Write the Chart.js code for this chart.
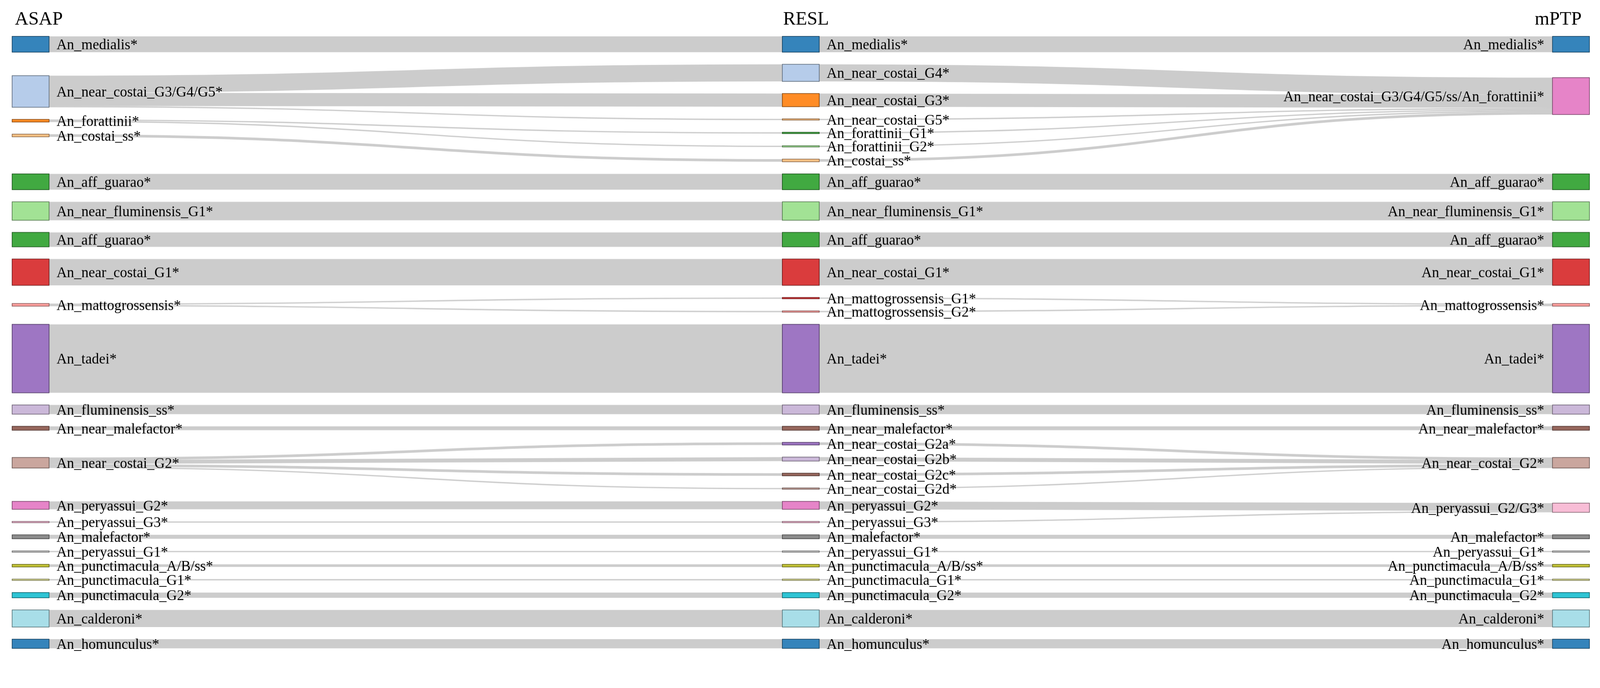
<!DOCTYPE html>
<html>
<head>
<meta charset="utf-8">
<script src="https://cdn.jsdelivr.net/npm/chart.js@4.4.1/dist/chart.umd.min.js"></script>
<style>
  html, body { margin: 0; padding: 0; background: #fff; overflow: hidden; }
  #wrap { width: 100vw; aspect-ratio: 4234 / 1761; }
</style>
</head>
<body>
<div id="wrap"><canvas id="sankey"></canvas></div>
<script>
const columnTitles = ['ASAP', 'RESL', 'mPTP'];

const asapNames = [
  'An_medialis*', 'An_near_costai_G3/G4/G5*', 'An_forattinii*', 'An_costai_ss*',
  'An_aff_guarao*', 'An_near_fluminensis_G1*', 'An_aff_guarao*', 'An_near_costai_G1*',
  'An_mattogrossensis*', 'An_tadei*', 'An_fluminensis_ss*', 'An_near_malefactor*',
  'An_near_costai_G2*', 'An_peryassui_G2*', 'An_peryassui_G3*', 'An_malefactor*',
  'An_peryassui_G1*', 'An_punctimacula_A/B/ss*', 'An_punctimacula_G1*', 'An_punctimacula_G2*',
  'An_calderoni*', 'An_homunculus*'
];

const reslNames = [
  'An_medialis*', 'An_near_costai_G4*', 'An_near_costai_G3*', 'An_near_costai_G5*',
  'An_forattinii_G1*', 'An_forattinii_G2*', 'An_costai_ss*', 'An_aff_guarao*',
  'An_near_fluminensis_G1*', 'An_aff_guarao*', 'An_near_costai_G1*', 'An_mattogrossensis_G1*',
  'An_mattogrossensis_G2*', 'An_tadei*', 'An_fluminensis_ss*', 'An_near_malefactor*',
  'An_near_costai_G2a*', 'An_near_costai_G2b*', 'An_near_costai_G2c*', 'An_near_costai_G2d*',
  'An_peryassui_G2*', 'An_peryassui_G3*', 'An_malefactor*', 'An_peryassui_G1*',
  'An_punctimacula_A/B/ss*', 'An_punctimacula_G1*', 'An_punctimacula_G2*', 'An_calderoni*',
  'An_homunculus*'
];

const mptpNames = [
  'An_medialis*', 'An_near_costai_G3/G4/G5/ss/An_forattinii*', 'An_aff_guarao*',
  'An_near_fluminensis_G1*', 'An_aff_guarao*', 'An_near_costai_G1*', 'An_mattogrossensis*',
  'An_tadei*', 'An_fluminensis_ss*', 'An_near_malefactor*', 'An_near_costai_G2*',
  'An_peryassui_G2/G3*', 'An_malefactor*', 'An_peryassui_G1*', 'An_punctimacula_A/B/ss*',
  'An_punctimacula_G1*', 'An_punctimacula_G2*', 'An_calderoni*', 'An_homunculus*'
];

// [ASAP index, RESL index, sequences]
const asapToResl = [
  [0, 0, 12], [1, 1, 13], [1, 2, 10], [1, 3, 1], [2, 4, 1], [2, 5, 1], [3, 6, 2],
  [4, 7, 12], [5, 8, 14], [6, 9, 11], [7, 10, 20], [8, 11, 1], [8, 12, 1], [9, 13, 52],
  [10, 14, 7], [11, 15, 3], [12, 16, 2], [12, 17, 3], [12, 18, 2], [12, 19, 1],
  [13, 20, 6], [14, 21, 1], [15, 22, 3], [16, 23, 1], [17, 24, 2], [18, 25, 1],
  [19, 26, 4], [20, 27, 13], [21, 28, 7]
];

// [RESL index, mPTP index, sequences]
const reslToMptp = [
  [0, 0, 12], [1, 1, 13], [2, 1, 10], [3, 1, 1], [4, 1, 1], [5, 1, 1], [6, 1, 2],
  [7, 2, 12], [8, 3, 14], [9, 4, 11], [10, 5, 20], [11, 6, 1], [12, 6, 1], [13, 7, 52],
  [14, 8, 7], [15, 9, 3], [16, 10, 2], [17, 10, 3], [18, 10, 2], [19, 10, 1],
  [20, 11, 6], [21, 11, 1], [22, 12, 3], [23, 13, 1], [24, 14, 2], [25, 15, 1],
  [26, 16, 4], [27, 17, 13], [28, 18, 7]
];

const category20 = [
  '#1f77b4', '#aec7e8', '#ff7f0e', '#ffbb78', '#2ca02c', '#98df8a', '#d62728', '#ff9896',
  '#9467bd', '#c5b0d5', '#8c564b', '#c49c94', '#e377c2', '#f7b6d2', '#7f7f7f', '#c7c7c7',
  '#bcbd22', '#dbdb8d', '#17becf', '#9edae5'
];

const nodePad = 9.2;     // gap between nodes, in sequence units
const nodeSpan = 0.048;  // node width, in column units
const iterations = 64;

// nodes and links
const columns = [asapNames, reslNames, mptpNames].map((names, c) =>
  names.map((name, i) => ({ name, col: c, y: i, sourceLinks: [], targetLinks: [] })));
const links = [];
[asapToResl, reslToMptp].forEach((flows, c) => {
  flows.forEach(([s, t, v]) => {
    const link = { source: columns[c][s], target: columns[c + 1][t], value: v };
    link.source.sourceLinks.push(link);
    link.target.targetLinks.push(link);
    links.push(link);
  });
});
const allNodes = columns.flat();
const sum = (arr, f) => arr.reduce((a, d) => a + f(d), 0);
allNodes.forEach(n => {
  n.value = Math.max(sum(n.sourceLinks, l => l.value), sum(n.targetLinks, l => l.value));
  n.dy = n.value;
});
links.forEach(l => { l.dy = l.value; });

// colour by first appearance of a name, like d3 category20
const colorOf = {};
let nextColor = 0;
allNodes.forEach(n => {
  if (!(n.name in colorOf)) colorOf[n.name] = category20[nextColor++ % 20];
  n.color = colorOf[n.name];
});

function darker(hex) {
  const k = 0.49;
  const r = parseInt(hex.slice(1, 3), 16), g = parseInt(hex.slice(3, 5), 16), b = parseInt(hex.slice(5, 7), 16);
  return `rgb(${Math.round(r * k)},${Math.round(g * k)},${Math.round(b * k)})`;
}

// vertical layout: sankey relaxation, keeping the given order
const extent = Math.max(...columns.map(nodes => sum(nodes, n => n.value) + (nodes.length - 1) * nodePad));
const center = n => n.y + n.dy / 2;

function resolveCollisions() {
  columns.forEach(nodes => {
    let y0 = 0;
    nodes.forEach(n => {
      if (y0 - n.y > 0) n.y = y0;
      y0 = n.y + n.dy + nodePad;
    });
    let dy = y0 - nodePad - extent;
    if (dy > 0) {
      const last = nodes[nodes.length - 1];
      last.y -= dy;
      y0 = last.y;
      for (let i = nodes.length - 2; i >= 0; i--) {
        const n = nodes[i];
        dy = n.y + n.dy + nodePad - y0;
        if (dy > 0) n.y -= dy;
        y0 = n.y;
      }
    }
  });
}

function relaxLeftToRight(alpha) {
  columns.forEach(nodes => nodes.forEach(n => {
    if (!n.targetLinks.length) return;
    const y = sum(n.targetLinks, l => center(l.source) * l.value) / sum(n.targetLinks, l => l.value);
    n.y += (y - center(n)) * alpha;
  }));
}

function relaxRightToLeft(alpha) {
  columns.slice().reverse().forEach(nodes => nodes.forEach(n => {
    if (!n.sourceLinks.length) return;
    const y = sum(n.sourceLinks, l => center(l.target) * l.value) / sum(n.sourceLinks, l => l.value);
    n.y += (y - center(n)) * alpha;
  }));
}

resolveCollisions();
for (let alpha = 1, k = iterations; k > 0; k--) {
  relaxRightToLeft(alpha *= 0.99);
  resolveCollisions();
  relaxLeftToRight(alpha);
  resolveCollisions();
}

allNodes.forEach(n => {
  n.sourceLinks.sort((a, b) => a.target.y - b.target.y);
  n.targetLinks.sort((a, b) => a.source.y - b.source.y);
});
allNodes.forEach(n => {
  let sy = 0, ty = 0;
  n.sourceLinks.forEach(l => { l.sy = sy; sy += l.dy; });
  n.targetLinks.forEach(l => { l.ty = ty; ty += l.dy; });
});

const sankeyPlugin = {
  id: 'sankey',
  beforeDatasetsDraw(chart) {
    const { ctx } = chart;
    const xs = chart.scales.x, ys = chart.scales.y;
    const unit = Math.abs(ys.getPixelForValue(1) - ys.getPixelForValue(0));
    ctx.save();

    // flows
    ctx.strokeStyle = 'rgba(0,0,0,0.2)';
    links.forEach(l => {
      const x0 = xs.getPixelForValue(l.source.col + nodeSpan);
      const x1 = xs.getPixelForValue(l.target.col);
      const xm = (x0 + x1) / 2;
      const y0 = ys.getPixelForValue(l.source.y + l.sy + l.dy / 2);
      const y1 = ys.getPixelForValue(l.target.y + l.ty + l.dy / 2);
      ctx.lineWidth = Math.max(1, l.dy * unit);
      ctx.beginPath();
      ctx.moveTo(x0, y0);
      ctx.bezierCurveTo(xm, y0, xm, y1, x1, y1);
      ctx.stroke();
    });

    // nodes
    allNodes.forEach(n => {
      const x0 = xs.getPixelForValue(n.col), x1 = xs.getPixelForValue(n.col + nodeSpan);
      const y0 = ys.getPixelForValue(n.y), y1 = ys.getPixelForValue(n.y + n.dy);
      ctx.globalAlpha = 0.9;
      ctx.fillStyle = n.color;
      ctx.fillRect(x0, y0, x1 - x0, y1 - y0);
      ctx.globalAlpha = 1;
      ctx.strokeStyle = darker(n.color);
      ctx.lineWidth = 1.5;
      ctx.strokeRect(x0, y0, x1 - x0, y1 - y0);
    });

    // node labels
    ctx.fillStyle = '#000';
    ctx.font = '37px "Liberation Serif", "Times New Roman", serif';
    ctx.textBaseline = 'alphabetic';
    allNodes.forEach(n => {
      const cy = ys.getPixelForValue(center(n)) + 13;
      if (n.col < columns.length - 1) {
        ctx.textAlign = 'left';
        ctx.fillText(n.name, xs.getPixelForValue(n.col + nodeSpan) + 19, cy);
      } else {
        ctx.textAlign = 'right';
        ctx.fillText(n.name, xs.getPixelForValue(n.col) - 21, cy);
      }
    });

    // column titles
    ctx.font = '48px "Liberation Serif", "Times New Roman", serif';
    const ty = chart.chartArea.top - 30;
    columnTitles.forEach((t, c) => {
      if (c < columnTitles.length - 1) {
        ctx.textAlign = 'left';
        ctx.fillText(t, xs.getPixelForValue(c) + (c === 0 ? 7 : 2), ty);
      } else {
        ctx.textAlign = 'right';
        ctx.fillText(t, xs.getPixelForValue(c + nodeSpan) - 20, ty);
      }
    });
    ctx.restore();
  }
};

new Chart(document.getElementById('sankey'), {
  type: 'scatter',
  data: {
    datasets: [{
      data: allNodes.map(n => ({ x: n.col + nodeSpan / 2, y: center(n) })),
      pointRadius: 0
    }]
  },
  options: {
    responsive: true,
    maintainAspectRatio: false,
    animation: false,
    layout: { padding: { left: 31, right: 27, top: 93, bottom: 45 } },
    scales: {
      x: { type: 'linear', min: 0, max: 2 + nodeSpan, display: false },
      y: { type: 'linear', min: 0, max: extent, reverse: true, display: false }
    },
    plugins: {
      legend: { display: false },
      tooltip: { enabled: false }
    }
  },
  plugins: [sankeyPlugin]
});
</script>
</body>
</html>
